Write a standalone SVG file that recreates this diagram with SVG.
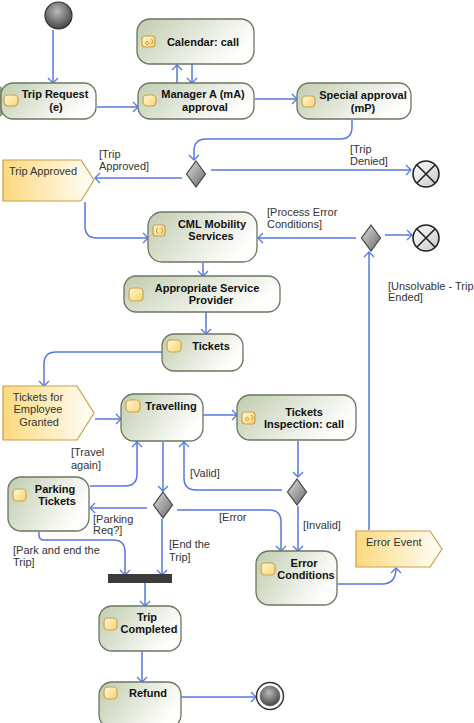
<svg xmlns="http://www.w3.org/2000/svg" width="474" height="723" viewBox="0 0 474 723">
<style>
text{font-family:"Liberation Sans",Arial,sans-serif;font-size:11px;fill:#333}
.n text{font-weight:bold;fill:#111;text-anchor:middle}
.a{fill:url(#g);stroke:#6b7560;stroke-width:1.3}
.i{fill:url(#y);stroke:#c9a24a;stroke-width:1.2}
.s{fill:url(#o);stroke:#c8a040;stroke-width:1.2}
.d{fill:url(#k);stroke:#444;stroke-width:1.2}
.x{fill:url(#e);stroke:#222;stroke-width:1.6}
.xl{stroke:#222;stroke-width:1.6;fill:none}
.g{fill:none;stroke:#c8952c;stroke-width:1}
#c path{fill:none;stroke:#5578e0;stroke-width:1.5;marker-end:url(#m)}
</style>
<defs>
<linearGradient id="g" x1="0" y1="0" x2="1" y2="0.4"><stop offset="0" stop-color="#bfccae"/><stop offset="0.7" stop-color="#edf0e7"/><stop offset="1" stop-color="#fefefd"/></linearGradient>
<linearGradient id="y" x1="0" y1="0" x2="1" y2="1"><stop offset="0" stop-color="#fff6d8"/><stop offset="1" stop-color="#fbd46e"/></linearGradient>
<linearGradient id="o" x1="0" y1="0" x2="1" y2="0"><stop offset="0" stop-color="#fcd97f"/><stop offset="1" stop-color="#fffef9"/></linearGradient>
<linearGradient id="k" x1="0" y1="0" x2="1" y2="1"><stop offset="0" stop-color="#e0e0e0"/><stop offset="1" stop-color="#666"/></linearGradient>
<linearGradient id="e" x1="0" y1="0" x2="1" y2="1"><stop offset="0" stop-color="#fff"/><stop offset="1" stop-color="#c8c8c8"/></linearGradient>
<radialGradient id="b" cx="0.45" cy="0.35" r="0.65"><stop offset="0" stop-color="#bbb"/><stop offset="1" stop-color="#444"/></radialGradient>
<marker id="m" markerWidth="8" markerHeight="12" refX="6" refY="6" orient="auto" markerUnits="userSpaceOnUse"><path d="M1 1L6 6L1 11" style="fill:none;stroke:#5578e0;stroke-width:1.3;marker-end:none"/></marker>
</defs>
<g id="c">
<path d="M53 30V83"/>
<path d="M97 107H138"/>
<path d="M177 83V65"/>
<path d="M192 64V83"/>
<path d="M255 99H297"/>
<path d="M352 120V127Q352 139 340 139H206Q194 139 194 151V160"/>
<path d="M182 178H95"/>
<path d="M211 170H411"/>
<path d="M85 202V226Q85 238 97 238H148"/>
<path d="M356 238H258"/>
<path d="M385 235H412"/>
<path d="M369 530V252"/>
<path d="M203 263V276"/>
<path d="M206 312V334"/>
<path d="M162 352H56Q44 352 44 364V386"/>
<path d="M95 419H121"/>
<path d="M203 415H237"/>
<path d="M90 486H125Q137 486 137 474V442"/>
<path d="M163 442V491"/>
<path d="M282 490H196Q184 490 184 478V442"/>
<path d="M298 441V477"/>
<path d="M147 508H90"/>
<path d="M177 510H269Q281 510 281 522V551"/>
<path d="M298 506V551"/>
<path d="M39 532V535Q39 540 44 540H113Q125 540 125 552V575"/>
<path d="M162 519V575"/>
<path d="M145 583V606"/>
<path d="M142 651V682"/>
<path d="M181 697H256"/>
<path d="M338 584H382Q396 584 396 568"/>
</g>
<g id="start"><circle cx="58.500" cy="15.500" r="13.500" fill="url(#b)" stroke="#333" stroke-width="1.200"/></g>
<g id="n1" class="n"><rect x="-8" y="86" width="12" height="31" rx="6" fill="#8fa070"/><rect class="a" x="1" y="83" width="95" height="36" rx="12"/><rect class="i" x="4" y="95" width="14" height="11" rx="4"/><text x="55" y="98">Trip Request</text><text x="56" y="111">(e)</text></g>
<g id="n2" class="n"><rect class="a" x="137" y="19" width="117" height="45" rx="13"/><rect class="i" x="142" y="36" width="13" height="11" rx="3"/><path class="g" d="M147 41.500a1.500 1.500 0 1 0 0.010 0M151 39.500a2 2 0 0 1 0 4"/><text x="203" y="46">Calendar: call</text></g>
<g id="n3" class="n"><rect class="a" x="138" y="83" width="116" height="36" rx="12"/><rect class="i" x="143" y="95" width="13" height="11" rx="4"/><text x="203" y="98">Manager A (mA)</text><text x="205" y="111">approval</text></g>
<g id="n4" class="n"><rect class="a" x="297" y="83" width="114" height="36" rx="12"/><rect class="i" x="302" y="96" width="13" height="11" rx="4"/><text x="363" y="99">Special approval</text><text x="363" y="112">(mP)</text></g>
<g id="d1"><polygon class="d" points="196,161 205.500,174 196,187 186.500,174"/></g>
<g id="e1"><circle class="x" cx="426" cy="174" r="13"/><path class="xl" d="M417 165L435 183M435 165L417 183"/></g>
<g id="s1"><polygon class="s" points="3,160 81,160 94,180 81,201 3,201"/><text x="9" y="175">Trip Approved</text></g>
<text x="99" y="158">[Trip</text><text x="99" y="170">Approved]</text>
<text x="350" y="153">[Trip</text><text x="350" y="165">Denied]</text>
<g id="n5" class="n"><rect class="a" x="148" y="212" width="109" height="50" rx="14"/><rect class="i" x="153" y="225" width="12" height="11" rx="3"/><path class="g" d="M158 227.500q-1.500 0 -1.500 3t1.500 3M161 227.500q1.500 0 1.500 3t-1.500 3"/><text x="212" y="228">CML Mobility</text><text x="211" y="240">Services</text></g>
<text x="267" y="216">[Process Error</text><text x="267" y="228">Conditions]</text>
<g id="d2"><polygon class="d" points="371,225 380.500,238 371,251 361.500,238"/></g>
<g id="e2"><circle class="x" cx="426" cy="238" r="13"/><path class="xl" d="M417 229L435 247M435 229L417 247"/></g>
<text x="388" y="290">[Unsolvable - Trip</text><text x="388" y="301">Ended]</text>
<g id="n6" class="n"><rect class="a" x="124" y="276" width="156" height="36" rx="12"/><rect class="i" x="129" y="288" width="14" height="13" rx="4"/><text x="207" y="292">Appropriate Service</text><text x="211" y="304">Provider</text></g>
<g id="n7" class="n"><rect class="a" x="162" y="334" width="81" height="37" rx="12"/><rect class="i" x="167" y="340" width="14" height="12" rx="4"/><text x="211" y="350">Tickets</text></g>
<g id="s2"><polygon class="s" points="3,386 77,386 94,413 77,440 3,440"/><text x="38" y="401" text-anchor="middle">Tickets for</text><text x="38" y="413" text-anchor="middle">Employee</text><text x="39" y="426" text-anchor="middle">Granted</text></g>
<g id="n8" class="n"><rect class="a" x="121" y="394" width="82" height="47" rx="13"/><rect class="i" x="126" y="400" width="14" height="12" rx="4"/><text x="171" y="410">Travelling</text></g>
<g id="n9" class="n"><rect class="a" x="237" y="395" width="119" height="45" rx="13"/><rect class="i" x="242" y="412" width="13" height="12" rx="3"/><path class="g" d="M247 417.500a1.500 1.500 0 1 0 0.010 0M251 415.500a2 2 0 0 1 0 4"/><text x="304" y="416">Tickets</text><text x="304" y="428">Inspection: call</text></g>
<text x="71" y="456">[Travel</text><text x="71" y="469">again]</text>
<text x="190" y="477">[Valid]</text>
<g id="d3"><polygon class="d" points="163,492 172.500,505 163,518 153.500,505"/></g>
<g id="d4"><polygon class="d" points="297,479 306.500,492 297,505 287.500,492"/></g>
<g id="n10" class="n"><rect class="a" x="8" y="477" width="81" height="54" rx="13"/><rect class="i" x="13" y="489" width="13" height="12" rx="4"/><text x="55" y="493">Parking</text><text x="57" y="505">Tickets</text></g>
<text x="93" y="523">[Parking</text><text x="93" y="534">Req?]</text>
<text x="219" y="521">[Error</text>
<text x="303" y="529">[Invalid]</text>
<text x="13" y="554">[Park and end the</text><text x="13" y="566">Trip]</text>
<text x="169" y="548">[End the</text><text x="169" y="561">Trip]</text>
<g id="n11" class="n"><rect class="a" x="256" y="551" width="81" height="54" rx="13"/><rect class="i" x="261" y="563" width="14" height="12" rx="4"/><text x="304" y="567">Error</text><text x="306" y="579">Conditions</text></g>
<g id="s3"><polygon class="s" points="356,531 430,531 442,549 430,567 356,567"/><text x="366" y="546">Error Event</text></g>
<g id="bar"><rect x="108" y="574" width="64" height="9" fill="#3c3c3c"/></g>
<g id="n12" class="n"><rect class="a" x="99" y="606" width="82" height="45" rx="13"/><rect class="i" x="104" y="618" width="13" height="12" rx="4"/><text x="147" y="621">Trip</text><text x="149" y="633">Completed</text></g>
<g id="n13" class="n"><rect class="a" x="99" y="682" width="82" height="46" rx="13"/><rect class="i" x="104" y="687" width="13" height="12" rx="4"/><text x="148" y="697">Refund</text></g>
<g id="end"><circle cx="270" cy="696" r="13.500" fill="#fff" stroke="#333" stroke-width="1.500"/><circle cx="270" cy="696" r="10" fill="url(#b)" stroke="#555" stroke-width="0.600"/></g>
</svg>
